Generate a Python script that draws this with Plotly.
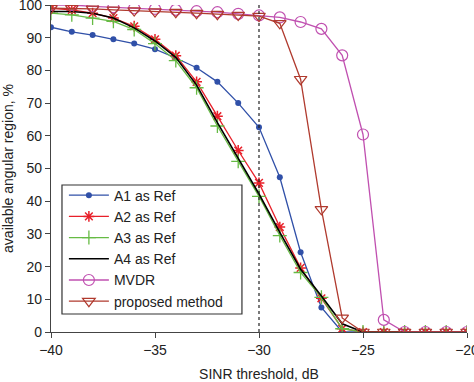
import plotly.graph_objects as go

x = list(range(-40, -19))
a1 = [93.2, 91.8, 90.8, 89.5, 88.2, 86.5, 83.8, 80.8, 76.5, 70.0, 62.6, 47.3, 24.4, 7.5, 0, 0, 0, 0, 0, 0, 0]
a2 = [99.0, 98.5, 97.5, 96.0, 93.5, 89.5, 84.5, 76.5, 66.0, 55.5, 45.6, 32.1, 19.6, 10.3, 1.0, 0, 0, 0, 0, 0, 0]
a3 = [97.5, 97.0, 96.0, 95.0, 92.5, 88.2, 83.0, 74.7, 63.0, 52.2, 41.5, 29.5, 18.2, 10.6, 1.0, 0, 0, 0, 0, 0, 0]
a4 = [98.0, 98.0, 97.5, 96.0, 93.0, 89.0, 84.0, 75.5, 64.0, 53.0, 42.2, 30.5, 19.2, 11.0, 2.5, 0, 0, 0, 0, 0, 0]
mvdr = [100, 100, 99.6, 99.3, 99.0, 98.8, 98.5, 98.1, 97.8, 97.3, 96.8, 96.2, 94.8, 92.7, 84.6, 60.4, 3.7, 0, 0, 0, 0]
prop = [99.0, 99.0, 98.8, 98.5, 98.3, 98.0, 97.8, 97.5, 97.2, 96.9, 96.6, 94.4, 77.3, 37.5, 4.3, 0, 0, 0, 0, 0, 0]

x_ticks = [-40, -35, -30, -25, -20]
x_tick_text = ["\u221240", "\u221235", "\u221230", "\u221225", "\u221220"]
y_ticks = list(range(0, 101, 10))

fig = go.Figure()
fig.add_trace(go.Scatter(x=x, y=a1, name="A1 as Ref", mode="lines+markers",
                         line=dict(color="#3050a8", width=1.3),
                         marker=dict(symbol="circle", size=6, color="#3050a8")))
fig.add_trace(go.Scatter(x=x, y=a2, name="A2 as Ref", mode="lines+markers",
                         line=dict(color="#e8202a", width=1.3),
                         marker=dict(symbol="asterisk", size=9, color="#e8202a",
                                     line=dict(color="#e8202a", width=1.5))))
fig.add_trace(go.Scatter(x=x, y=a3, name="A3 as Ref", mode="lines+markers",
                         line=dict(color="#66bb44", width=1.3),
                         marker=dict(symbol="cross-thin", size=10, color="#66bb44",
                                     line=dict(color="#66bb44", width=1.3))))
fig.add_trace(go.Scatter(x=x, y=a4, name="A4 as Ref", mode="lines",
                         line=dict(color="#000000", width=1.6)))
fig.add_trace(go.Scatter(x=x, y=mvdr, name="MVDR", mode="lines+markers",
                         line=dict(color="#c050b0", width=1.3),
                         marker=dict(symbol="circle-open", size=11, color="#c050b0",
                                     line=dict(color="#c050b0", width=1.2))))
fig.add_trace(go.Scatter(x=x, y=prop, name="proposed method", mode="lines+markers",
                         line=dict(color="#b03a2e", width=1.3),
                         marker=dict(symbol="triangle-down-open", size=11, color="#b03a2e",
                                     line=dict(color="#b03a2e", width=1.2))))

fig.add_shape(type="line", x0=-30, x1=-30, y0=0, y1=1, yref="paper",
              line=dict(color="#222222", width=1.2, dash="dot"))
# legend frame
fig.add_shape(type="rect", xref="paper", yref="paper",
              x0=0.0264, x1=0.459, y0=0.055, y1=0.4495,
              line=dict(color="#333333", width=1.2), fillcolor="rgba(0,0,0,0)")

fig.update_layout(
    width=474, height=382,
    margin=dict(l=51, r=7, t=5, b=50),
    paper_bgcolor="white", plot_bgcolor="white",
    font=dict(family="Liberation Sans, Arial, sans-serif", size=14, color="#222222"),
    showlegend=True,
    legend=dict(x=0.031, y=0.466, xanchor="left", yanchor="top",
                borderwidth=0, bgcolor="rgba(0,0,0,0)",
                font=dict(size=14), tracegroupgap=0, itemwidth=40),
    xaxis=dict(range=[-40, -20], tickvals=x_ticks, ticktext=x_tick_text,
               showgrid=False, zeroline=False, showline=True, linecolor="#444444",
               linewidth=1.2, ticks="outside", ticklen=5, tickcolor="#444444",
               automargin=False, ticklabeloverflow="allow",
               title=dict(text="SINR threshold, dB", font=dict(size=14), standoff=12)),
    yaxis=dict(range=[0, 100], tickvals=y_ticks,
               showgrid=False, zeroline=False, showline=True, linecolor="#444444",
               linewidth=1.2, ticks="outside", ticklen=5, tickcolor="#444444",
               automargin=False, ticklabeloverflow="allow",
               title=dict(text="available angular region, %", font=dict(size=14), standoff=6)),
)

fig.write_html("out.html", config={"displayModeBar": False},
               post_script="document.body.style.margin='0';")
